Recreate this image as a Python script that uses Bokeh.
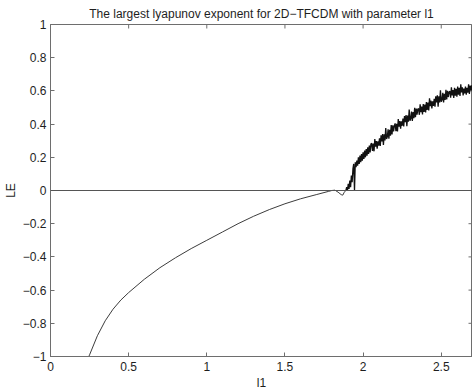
import numpy as np
from bokeh.plotting import figure
from bokeh.models import Range1d, FixedTicker, Span, ColumnDataSource
from bokeh.embed import file_html
from bokeh.resources import INLINE

title_text = "The largest lyapunov exponent for 2D\u2212TFCDM with parameter l1"
x_label = "l1"
y_label = "LE"

x_ticks = [0, 0.5, 1, 1.5, 2, 2.5]
x_tick_labels = ["0", "0.5", "1", "1.5", "2", "2.5"]
y_ticks = [-1, -0.8, -0.6, -0.4, -0.2, 0, 0.2, 0.4, 0.6, 0.8, 1]
y_tick_labels = ["\u22121", "\u22120.8", "\u22120.6", "\u22120.4", "\u22120.2", "0",
                 "0.2", "0.4", "0.6", "0.8", "1"]

# regular (non-chaotic) branch of the largest Lyapunov exponent
l1_regular = [0.24, 0.25, 0.30, 0.35, 0.40, 0.45, 0.50, 0.60, 0.70, 0.80, 0.90,
              1.00, 1.10, 1.20, 1.30, 1.40, 1.50, 1.60, 1.70, 1.78, 1.80, 1.82,
              1.84, 1.86, 1.87, 1.88, 1.89]
le_regular = [-1.01, -0.99, -0.875, -0.785, -0.715, -0.66, -0.615, -0.535, -0.465,
              -0.405, -0.35, -0.30, -0.25, -0.20, -0.155, -0.115, -0.08, -0.05,
              -0.025, -0.005, 0.0, 0.002, -0.01, -0.025, -0.028, -0.01, 0.0]

# chaotic branch sampled every 0.005 in l1 from 1.89 to 2.70
l1_chaos_first = 1.89
l1_chaos_last = 2.70
le_chaos = [
    0.00, 0.02, 0.00, 0.04, 0.01, 0.06, 0.02, 0.09, 0.05, 0.13,
    0.16, 0.00, 0.17, 0.14, 0.18, 0.15, 0.20, 0.16, 0.21, 0.17,
    0.22, 0.18, 0.23, 0.19, 0.24, 0.20, 0.25, 0.21, 0.26, 0.22, 0.27, 0.23, 0.28,
    0.284, 0.238, 0.282, 0.236, 0.310, 0.264, 0.298, 0.252, 0.296, 0.270,
    0.314, 0.268, 0.332, 0.296, 0.340, 0.274, 0.338, 0.302, 0.376, 0.310,
    0.324, 0.368, 0.312, 0.366, 0.330, 0.394, 0.338, 0.392, 0.356, 0.390,
    0.404, 0.358, 0.402, 0.356, 0.430, 0.384, 0.418, 0.372, 0.416, 0.390,
    0.433, 0.386, 0.449, 0.412, 0.455, 0.388, 0.451, 0.414, 0.487, 0.420,
    0.433, 0.476, 0.419, 0.472, 0.435, 0.498, 0.441, 0.494, 0.457, 0.490,
    0.493, 0.456, 0.519, 0.472, 0.505, 0.458, 0.521, 0.474, 0.517, 0.470,
    0.533, 0.486, 0.529, 0.482, 0.555, 0.508, 0.541, 0.494, 0.537, 0.510,
    0.553, 0.505, 0.568, 0.530, 0.573, 0.505, 0.568, 0.530, 0.603, 0.535,
    0.547, 0.589, 0.531, 0.583, 0.545, 0.607, 0.549, 0.601, 0.563, 0.595,
    0.597, 0.559, 0.621, 0.573, 0.605, 0.557, 0.619, 0.571, 0.613, 0.565,
    0.626, 0.577, 0.618, 0.569, 0.640, 0.591, 0.622, 0.573, 0.614, 0.585,
    0.626, 0.577, 0.618, 0.589, 0.640, 0.581, 0.632, 0.603, 0.634, 0.595,
]
l1_chaos = np.linspace(l1_chaos_first, l1_chaos_last, len(le_chaos))

FONT = "Liberation Sans"
AXIS_COLOR = "#6e6e6e"
TEXT_COLOR = "#1e1e1e"

p = figure(frame_width=422, frame_height=332, output_backend="svg", toolbar_location=None,
           x_range=Range1d(0, 2.7), y_range=Range1d(-1, 1),
           min_border_left=0, min_border_right=0, min_border_top=0, min_border_bottom=0)
p.title.text = title_text
p.title.align = "center"
p.title.text_font = FONT
p.title.text_font_size = "12px"
p.title.text_font_style = "normal"
p.title.text_color = TEXT_COLOR
p.title.offset = 0
p.title.standoff = 8
p.grid.visible = False
p.outline_line_color = AXIS_COLOR
p.outline_line_width = 1

def style(ax):
    ax.axis_line_color = AXIS_COLOR
    ax.axis_line_width = 1
    ax.major_tick_line_color = AXIS_COLOR
    ax.major_tick_in = 4
    ax.major_tick_out = 0
    ax.minor_tick_line_color = None
    ax.major_label_text_font = FONT
    ax.major_label_text_font_size = "12px"
    ax.major_label_text_color = TEXT_COLOR
    ax.major_label_text_line_height = 1.0
    ax.axis_label_text_font = FONT
    ax.axis_label_text_font_size = "12px"
    ax.axis_label_text_font_style = "normal"
    ax.axis_label_text_color = TEXT_COLOR
    ax.axis_label_text_line_height = 1.0

xa = p.xaxis[0]
xa.ticker = FixedTicker(ticks=x_ticks)
xa.major_label_overrides = dict(zip(x_ticks, x_tick_labels))
xa.axis_label = x_label
style(xa)
xa.major_label_standoff = 5
xa.axis_label_standoff = 2

ya = p.yaxis[0]
ya.ticker = FixedTicker(ticks=y_ticks)
ya.major_label_overrides = dict(zip(y_ticks, y_tick_labels))
ya.axis_label = y_label
style(ya)
ya.major_label_standoff = 4
ya.axis_label_standoff = 2

# inward tick marks on the top and right sides of the box (half clipped by the frame)
p.scatter(x=x_ticks, y=[p.y_range.end] * len(x_ticks), marker="dash", angle=np.pi / 2,
          size=8, line_color=AXIS_COLOR, line_width=1)
p.scatter(x=[p.x_range.end] * len(y_ticks), y=y_ticks, marker="dash",
          size=8, line_color=AXIS_COLOR, line_width=1)

p.add_layout(Span(location=0, dimension="width", line_color="#555555", line_width=1))

src_r = ColumnDataSource(dict(x=l1_regular, y=le_regular))
p.line("x", "y", source=src_r, line_color="#3c3c3c", line_width=1)
src_c = ColumnDataSource(dict(x=l1_chaos, y=le_chaos))
p.line("x", "y", source=src_c, line_color="#111111", line_width=1.3)

open("out.html", "w").write(file_html(p, INLINE))
